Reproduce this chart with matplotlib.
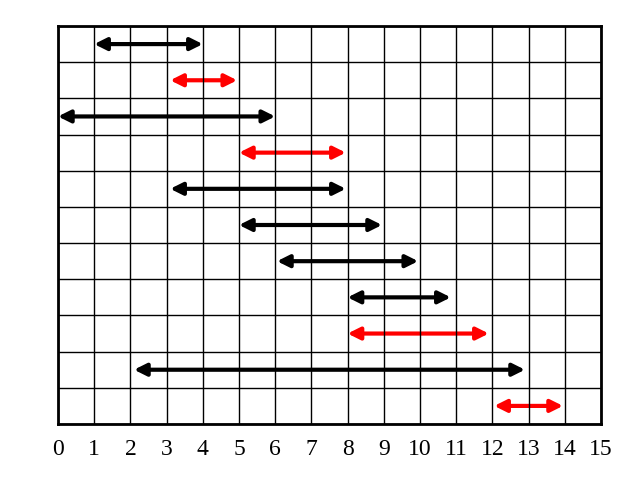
import matplotlib.pyplot as plt
from matplotlib.patches import FancyArrowPatch

# intervals, top row first
starts = [1, 3.1, 0, 5, 3.1, 5, 6.05, 8, 8, 2.1, 12.05]
ends = [4, 4.95, 6, 7.95, 7.95, 8.95, 9.95, 10.85, 11.9, 12.9, 13.95]
colors = ["black", "red", "black", "red", "black", "black",
          "black", "black", "red", "black", "red"]
x_ticks = list(range(0, 16))
n_rows = len(starts)

plt.rcParams["font.family"] = ["Liberation Serif", "DejaVu Serif"]

fig = plt.figure(figsize=(6.38, 4.78), dpi=100)
ax = fig.add_axes([58 / 638, 1 - 424 / 478, 543 / 638, 398 / 478])

ax.set_xlim(0, 15)
ax.set_ylim(0, n_rows)

for x in x_ticks:
    ax.axvline(x, color="black", lw=1.0)
for y in range(n_rows + 1):
    ax.axhline(y, color="black", lw=1.0)

for i in range(n_rows):
    y = n_rows - i - 0.5
    arr = FancyArrowPatch((starts[i], y), (ends[i], y), arrowstyle="<|-|>",
                          mutation_scale=18, color=colors[i], lw=3,
                          shrinkA=0, shrinkB=0)
    ax.add_patch(arr)

for s in ax.spines.values():
    s.set_linewidth(2)
    s.set_color("black")

ax.set_xticks(x_ticks)
ax.set_xticklabels([str(v) for v in x_ticks], fontsize=17)
ax.tick_params(axis="x", length=0, pad=11)
ax.set_yticks([])

fig.savefig("out.png", dpi=100)
